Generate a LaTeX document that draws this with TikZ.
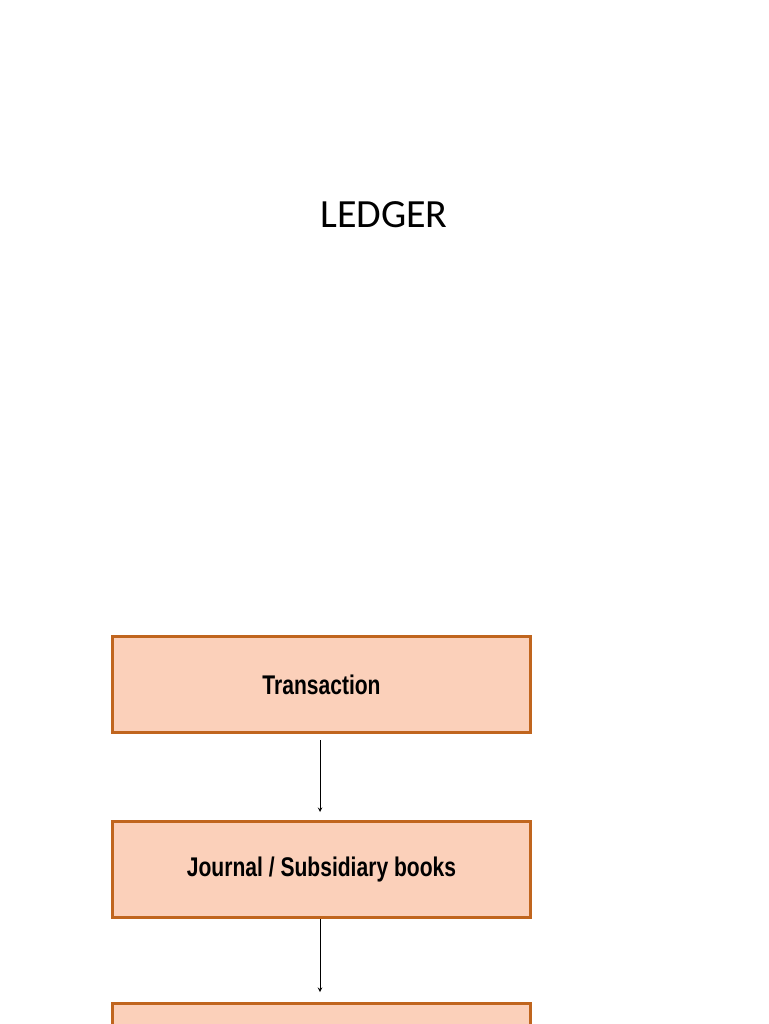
\documentclass[tikz,border=0pt]{standalone}
\usepackage{fontspec}
\setmainfont{Carlito}
\newfontfamily\boxfont{Liberation Sans}
\definecolor{boxfill}{HTML}{FBD0BA}
\definecolor{boxline}{HTML}{C0651E}
\begin{document}
\begin{tikzpicture}[x=1pt,y=-1pt,
  flowbox/.style={draw=boxline,fill=boxfill,line width=3pt,minimum width=418pt,minimum height=96pt,anchor=north west,inner sep=0pt,font=\boxfont\bfseries\fontsize{27}{30}\selectfont},
  flowarrow/.style={->,>=stealth,line width=1pt}]
\useasboundingbox (0,0) rectangle (768,1024);
\clip (0,0) rectangle (768,1024);
\node (title) at (384,215) {\fontsize{40}{48}\selectfont LEDGER};
\node[flowbox] (t) at (111,635) {\scalebox{0.78}[1]{Transaction}};
\node[flowbox] (j) at (111,820) {\scalebox{0.78}[1]{Journal / Subsidiary books}};
\node[flowbox,minimum height=96pt] (l) at (111,1002) {};
\draw[flowarrow] (320,740) -- (320,812);
\draw[flowarrow] (320,919) -- (320,992);
\end{tikzpicture}
\end{document}
